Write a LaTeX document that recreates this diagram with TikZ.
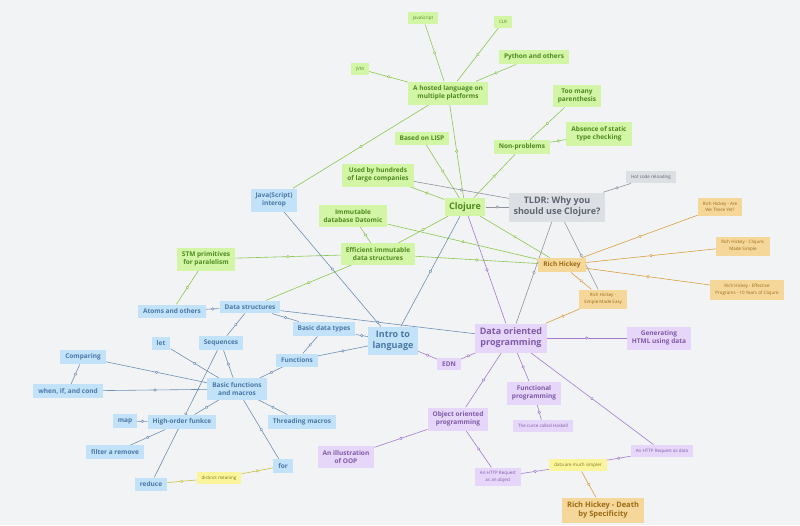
\documentclass[tikz,border=0pt]{standalone}
\usepackage{fontspec}
\setmainfont{Open Sans}
\usetikzlibrary{decorations.markings, backgrounds}
\definecolor{bgc}{HTML}{F2F3F5}
\definecolor{gfill}{HTML}{D3F5A6}\definecolor{gtext}{HTML}{4E8A1E}\definecolor{gline}{HTML}{8CC850}
\definecolor{bfill}{HTML}{C2E2FA}\definecolor{btext}{HTML}{4A78A6}\definecolor{bline}{HTML}{6E90B6}
\definecolor{pfill}{HTML}{E6D6FA}\definecolor{ptext}{HTML}{7E5AA6}\definecolor{pline}{HTML}{A47BD0}
\definecolor{ofill}{HTML}{F6D79A}\definecolor{otext}{HTML}{9A6A15}\definecolor{oline}{HTML}{D9A040}
\definecolor{yfill}{HTML}{FAF59A}\definecolor{ytext}{HTML}{7C7420}\definecolor{yline}{HTML}{C9C040}
\definecolor{kfill}{HTML}{DCDFE4}\definecolor{ktext}{HTML}{5E6570}\definecolor{kline}{HTML}{8E949E}

\tikzset{
  box/.style={rectangle, inner xsep=5pt, inner ysep=4pt, align=center, font=\fontsize{6.5}{8.5}\selectfont\bfseries},
  big/.style={font=\fontsize{9}{11}\selectfont\bfseries, inner sep=4.5pt},
  tiny/.style={font=\fontsize{4.5}{6.5}\selectfont, inner xsep=5pt, inner ysep=4pt},
  gbox/.style={box, fill=gfill, text=gtext},
  bbox/.style={box, fill=bfill, text=btext},
  pbox/.style={box, fill=pfill, text=ptext},
  obox/.style={box, fill=ofill, text=otext},
  ybox/.style={box, fill=yfill, text=ytext},
  kbox/.style={box, fill=kfill, text=ktext},
  link/.style={line width=0.6pt, postaction={decorate},
    decoration={markings, mark=at position .5 with {\draw[fill=bgc, line width=0.5pt] (0,0) circle (1.3pt);}}},
  glink/.style={link, gline}, blink/.style={link, bline}, plink/.style={link, pline},
  olink/.style={link, oline}, ylink/.style={link, yline}, klink/.style={link, kline}
}

\begin{document}
\begin{tikzpicture}[x=1pt, y=-1pt]
  % Clojure branch
  \node[gbox, big] (clojure) at (465,207) {Clojure};
  \node[gbox] (hosted) at (448,93) {A hosted language on\\multiple platforms};
  \node[gbox, tiny] (js) at (423,18) {JavaScript};
  \node[gbox, tiny] (clr) at (503,22) {CLR};
  \node[gbox] (python) at (534,57) {Python and others};
  \node[gbox, tiny] (jvm) at (360,69) {JVM};
  \node[gbox] (lisp) at (422,138) {Based on LISP};
  \node[gbox] (nonprob) at (522,147) {Non-problems};
  \node[gbox] (parens) at (577,96) {Too many\\parenthesis};
  \node[gbox] (static) at (599,134) {Absence of static\\type checking};
  \node[gbox] (hundreds) at (378,175) {Used by hundreds\\of large companies};
  \node[gbox] (datomic) at (353,216) {Immutable\\database Datomic};
  \node[gbox] (immut) at (378,254) {Efficient immutable\\data structures};
  \node[gbox] (stm) at (206,259) {STM primitives\\for paralelism};

  % TLDR and talks
  \node[kbox, big] (tldr) at (557,207) {TLDR: Why you\\should use Clojure?};
  \node[kbox, tiny] (hotcode) at (651,177) {Hot code reloading};
  \node[obox] (hickey) at (562,265) {Rich Hickey};
  \node[obox, tiny] (yet) at (720,207) {Rich Hickey - Are\\We There Yet?};
  \node[obox, tiny] (cms) at (743,246) {Rich Hickey - Clojure,\\Made Simple};
  \node[obox, tiny] (effective) at (747,290) {Rich Hickey - Effective\\Programs - 10 Years of Clojure};
  \node[obox, tiny] (sme) at (603,299) {Rich Hickey -\\Simple Made Easy};

  % data oriented programming
  \node[pbox, big] (dop) at (511,338) {Data oriented\\programming};
  \node[pbox] (html) at (659,338) {Generating\\HTML using data};
  \node[pbox] (fp) at (534,393) {Functional\\programming};
  \node[pbox, tiny] (haskell) at (543,426) {The curse called Haskell};
  \node[pbox] (oop) at (458,419) {Object oriented\\programming};
  \node[pbox] (illus) at (346,457) {An illustration\\of OOP};
  \node[pbox, tiny] (reqobj) at (498,477) {An HTTP Request\\as an object};
  \node[ybox, tiny] (simpler) at (578,465) {data are much simpler};
  \node[pbox, tiny] (reqdata) at (662,451) {An HTTP Request as data};
  \node[obox, font=\fontsize{7.5}{9.5}\selectfont\bfseries] (death) at (603,510) {Rich Hickey - Death\\by Specificity};
  \node[pbox] (edn) at (449,364) {EDN};

  % intro to language
  \node[bbox, big] (intro) at (393,341) {Intro to\\language};
  \node[bbox] (interop) at (274,200) {Java(Script)\\interop};
  \node[bbox] (types) at (324,329) {Basic data types};
  \node[bbox] (functions) at (297,360) {Functions};
  \node[bbox] (structs) at (250,307) {Data structures};
  \node[bbox] (atoms) at (172,311) {Atoms and others};
  \node[bbox] (seqs) at (221,343) {Sequences};
  \node[bbox] (let) at (161,343) {let};
  \node[bbox] (comparing) at (83,357) {Comparing};
  \node[bbox] (when) at (68,391) {when, if, and cond};
  \node[bbox] (basics) at (237,389) {Basic functions\\and macros};
  \node[bbox] (highorder) at (182,422) {High-order funkce};
  \node[bbox] (map) at (125,421) {map};
  \node[bbox] (filter) at (115,452) {filter a remove};
  \node[bbox] (reduce) at (151,484) {reduce};
  \node[ybox, tiny] (distinct) at (219,478) {distinct meaning};
  \node[bbox] (for) at (283,466) {for};
  \node[bbox] (threading) at (302,422) {Threading macros};

  \begin{scope}[on background layer]
    \fill[bgc] (0,0) rectangle (800,525);
    \draw[glink] (clojure) -- (hosted);
    \draw[glink] (hosted) -- (js);
    \draw[glink] (hosted) -- (clr);
    \draw[glink] (hosted) -- (python);
    \draw[glink] (jvm) -- (hosted);
    \draw[glink] (interop) -- (hosted);
    \draw[glink] (clojure) -- (lisp);
    \draw[glink] (clojure) -- (nonprob);
    \draw[glink] (nonprob) -- (parens);
    \draw[glink] (nonprob) -- (static);
    \draw[glink] (clojure) -- (hundreds);
    \draw[glink] (datomic) -- (hickey);
    \draw[glink] (clojure) -- (immut);
    \draw[glink] (immut) -- (datomic);
    \draw[glink] (immut) -- (stm);
    \draw[glink] (immut) -- (structs);
    \draw[glink] (immut) -- (hickey);
    \draw[glink] (clojure) -- (hickey);
    \draw[glink] (stm) -- (atoms);
    \draw[klink] (clojure) -- (tldr);
    \draw[klink] (hundreds) -- (tldr);
    \draw[klink] (tldr) -- (hotcode);
    \draw[klink] (tldr) -- (dop);
    \draw[klink] (tldr) -- (sme);
    \draw[plink] (clojure) -- (dop);
    \draw[blink] (clojure) -- (intro);
    \draw[olink] (hickey) -- (yet);
    \draw[olink] (hickey) -- (cms);
    \draw[olink] (hickey) -- (effective);
    \draw[olink] (hickey) -- (sme);
    \draw[olink] (dop) -- (sme);
    \draw[plink] (dop) -- (html);
    \draw[plink] (dop) -- (fp);
    \draw[plink] (fp) -- (haskell);
    \draw[plink] (dop) -- (oop);
    \draw[plink] (oop) -- (illus);
    \draw[plink] (oop) -- (reqobj);
    \draw[plink] (dop) -- (reqdata);
    \draw[plink] (edn) -- (dop);
    \draw[plink] (intro) -- (edn);
    \draw[plink] (simpler) -- (reqobj);
    \draw[plink] (reqdata) -- (simpler);
    \draw[olink] (simpler) -- (death);
    \draw[blink] (intro) -- (interop);
    \draw[blink] (intro) -- (types);
    \draw[blink] (intro) -- (functions);
    \draw[blink] (dop) -- (structs);
    \draw[blink] (types) -- (structs);
    \draw[blink] (types) -- (functions);
    \draw[blink] (structs) -- (atoms);
    \draw[blink] (structs) -- (seqs);
    \draw[blink] (functions) -- (basics);
    \draw[blink] (basics) -- (let);
    \draw[blink] (basics) -- (comparing);
    \draw[blink] (comparing) -- (when);
    \draw[blink] (basics) -- (when);
    \draw[blink] (basics) -- (seqs);
    \draw[blink] (basics) -- (highorder);
    \draw[blink] (basics) -- (threading);
    \draw[blink] (basics) -- (for);
    \draw[blink] (highorder) -- (map);
    \draw[blink] (highorder) -- (filter);
    \draw[blink] (seqs) -- (reduce);
    \draw[ylink] (reduce) -- (distinct);
    \draw[ylink] (distinct) -- (for);
  \end{scope}
\end{tikzpicture}
\end{document}
